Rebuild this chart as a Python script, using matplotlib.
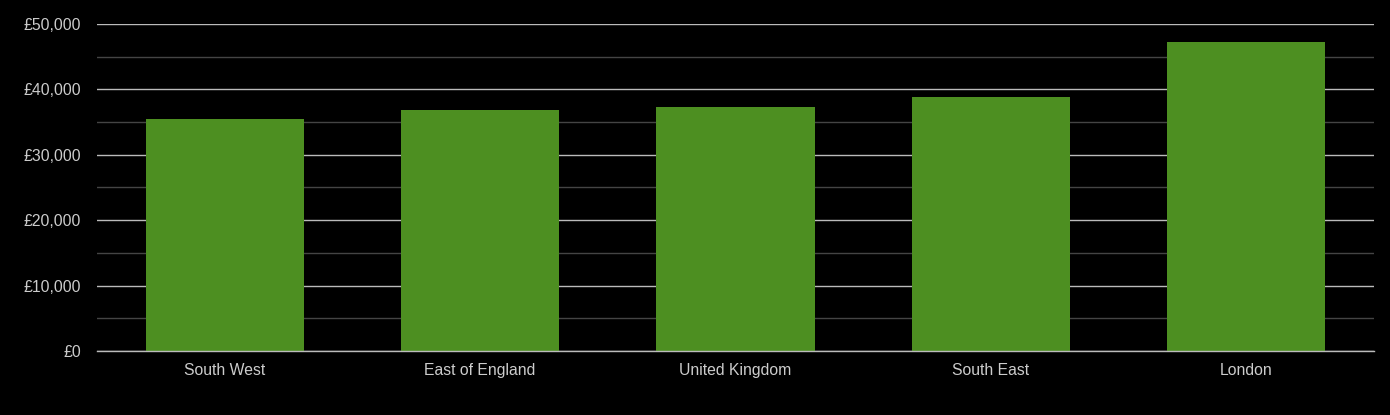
import matplotlib
matplotlib.use('Agg')
import matplotlib.pyplot as plt
from matplotlib.ticker import FuncFormatter, MultipleLocator, FixedLocator

regions = ['South West', 'East of England', 'United Kingdom', 'South East', 'London']
salaries = [35500, 36900, 37300, 38900, 47300]

bar_colour = '#4d8f21'
text_colour = '#cccccc'

plt.rcParams['font.family'] = ['Liberation Sans', 'DejaVu Sans']

fig = plt.figure(figsize=(13.9, 4.15), dpi=100, facecolor='black')
ax = fig.add_axes([97 / 1390, 64 / 415, 1277 / 1390, 327 / 415])
ax.set_facecolor('black')

ax.set_xlim(-0.5, len(regions) - 0.5)
ax.set_ylim(0, 50000)

ax.yaxis.set_major_locator(MultipleLocator(10000))
ax.yaxis.set_minor_locator(FixedLocator([5000, 15000, 25000, 35000, 45000]))
ax.grid(which='major', axis='y', color='#bbbbbb', linewidth=1)
ax.grid(which='minor', axis='y', color='#444444', linewidth=1)
ax.set_axisbelow(True)

ax.bar(range(len(regions)), salaries, width=0.62, color=bar_colour, zorder=2)
ax.axhline(0, color='#bbbbbb', linewidth=1, zorder=3, clip_on=False)

ax.set_xticks(range(len(regions)))
ax.set_xticklabels(regions)
ax.yaxis.set_major_formatter(FuncFormatter(lambda v, p: f'£{v:,.0f}'))

ax.tick_params(axis='both', which='both', length=0, colors=text_colour, labelsize=11.3)
ax.tick_params(axis='y', pad=11.5)
ax.tick_params(axis='x', pad=8.5)

for s in ax.spines.values():
    s.set_visible(False)

fig.savefig('out.png', dpi=100, facecolor='black')
